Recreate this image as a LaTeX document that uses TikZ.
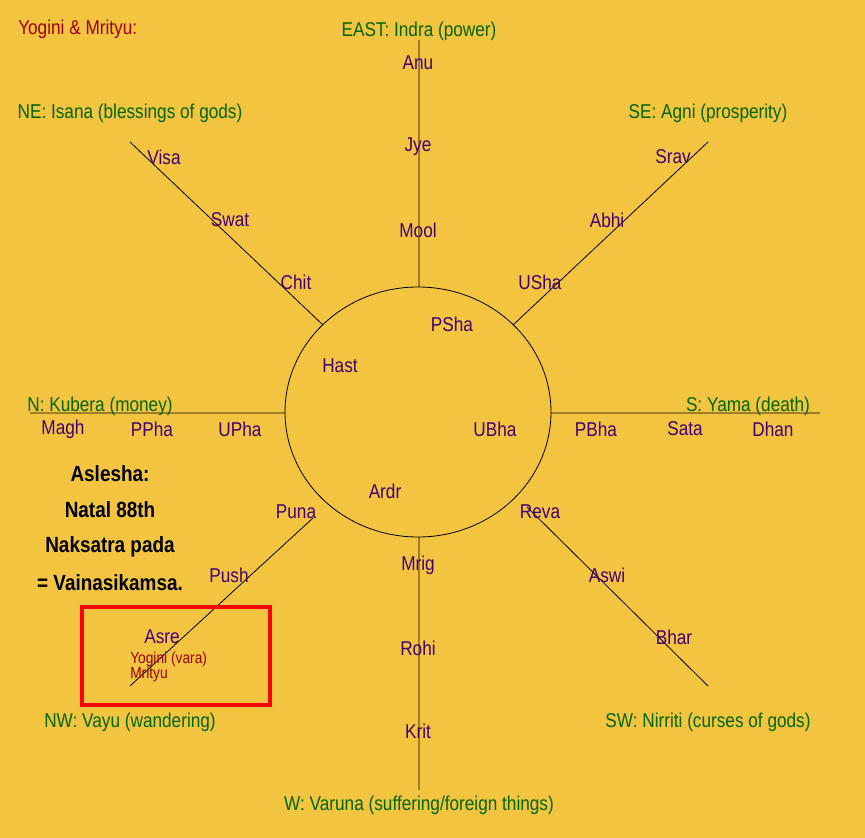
\documentclass[tikz,border=0pt]{standalone}
\usepackage{fontspec}
\setmainfont{Liberation Sans}[FakeStretch=0.86]
\begin{document}
\begin{tikzpicture}[x=0.75pt,y=-0.75pt,
  nak/.style={text=purple!50!blue!70!black,font=\fontsize{15}{17}\selectfont,inner sep=0},
  dir/.style={text=green!40!black,font=\fontsize{15}{17}\selectfont,inner sep=0},
  big/.style={font=\bfseries\fontsize{16.5}{19}\selectfont,inner sep=0},
  ln/.style={draw=black,line width=0.6pt}]
\fill[fill={rgb,255:red,242;green,196;blue,64}] (0,0) rectangle (865,838);
\useasboundingbox (0,0) rectangle (865,838);
\coordinate (c) at (418,412);
\draw[ln] (c) ellipse [x radius=133, y radius=125];
\coordinate (n1) at (419,40); \coordinate (n2) at (419,287);
\coordinate (s1) at (419,537); \coordinate (s2) at (419,790);
\coordinate (w1) at (30,413); \coordinate (w2) at (285,413);
\coordinate (e1) at (551,413); \coordinate (e2) at (820,413);
\coordinate (ne1) at (130,142); \coordinate (ne2) at (323,325);
\coordinate (se1) at (708,142); \coordinate (se2) at (513,325);
\coordinate (nw1) at (130,686); \coordinate (nw2) at (313,518);
\coordinate (sw1) at (708,686); \coordinate (sw2) at (527,507);
\draw[ln] (n1)--(n2) (s1)--(s2) (w1)--(w2) (e1)--(e2) (ne1)--(ne2) (se1)--(se2) (nw1)--(nw2) (sw1)--(sw2);
\foreach \t/\x/\y in {Anu/418/63,Jye/418/147,Mool/418/230,PSha/452/324,Hast/340/366,UBha/495/429,Ardr/385/491,Mrig/418/565,Rohi/418/648,Krit/418/731,Visa/164/157,Swat/230/220,Chit/296/282,Srav/673/157,Abhi/607/220,USha/540/282,Magh/63/429,PPha/152/429,UPha/240/429,PBha/596/429,Sata/685/429,Dhan/773/429,Reva/540/512,Aswi/607/575,Bhar/674/637,Puna/296/512,Push/229/575,Asre/162/637}
  \node[nak] (\t) at (\x,\y) {\t};
\node[dir] (E) at (419,31) {EAST: Indra (power)};
\node[dir] (NE) at (130,113) {NE: Isana (blessings of gods)};
\node[dir] (SE) at (708,113) {SE: Agni (prosperity)};
\node[dir] (N) at (100,406) {N: Kubera (money)};
\node[dir] (S) at (748,406) {S: Yama (death)};
\node[dir] (NW) at (130,722) {NW: Vayu (wandering)};
\node[dir] (SW) at (708,722) {SW: Nirriti (curses of gods)};
\node[dir] (W) at (419,805) {W: Varuna (suffering/foreign things)};
\node[anchor=west,text={rgb,255:red,160;green,0;blue,0},font=\fontsize{15}{17}\selectfont,inner sep=0] (title) at (18,29) {Yogini \& Mrityu:};
\node[big] (a1) at (110,474) {Aslesha:};
\node[big] (a2) at (110,510) {Natal 88th};
\node[big] (a3) at (110,547) {Naksatra pada};
\node[big] (a4) at (110,583) {= Vainasikamsa.};
\draw[red,line width=3.5pt] (82,607) rectangle (270,705);
\node[anchor=west,text={rgb,255:red,160;green,0;blue,0},font=\fontsize{12}{13}\selectfont,inner sep=0] (yv) at (130,659) {Yogini (vara)};
\node[anchor=west,text={rgb,255:red,160;green,0;blue,0},font=\fontsize{12}{13}\selectfont,inner sep=0] (mr) at (130,674) {Mrityu};
\end{tikzpicture}
\end{document}
